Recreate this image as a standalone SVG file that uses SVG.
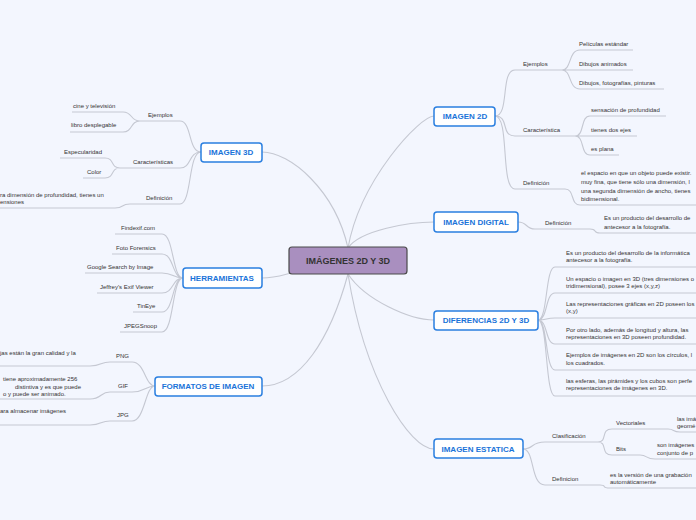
<svg xmlns="http://www.w3.org/2000/svg" width="696" height="520" viewBox="0 0 696 520">
<style>
.c{fill:none;stroke:#c5c8d2;stroke-width:1.1}
.n rect{fill:#fff;stroke:#2a7fe0;stroke-width:1.5}
.n text{font-family:"Liberation Sans",Arial,sans-serif;font-weight:bold;font-size:8px;fill:#1a73d9;text-anchor:middle}
.t{font-family:"Liberation Sans",Arial,sans-serif;font-size:6px;fill:#333}
</style>
<rect width="696" height="520" fill="#f3f6fe"/>
<g id="connectors" class="c">
<path d="M348,248 C360,180 420,116 434,116"/>
<path d="M348,248 C360,230 410,222 434,222"/>
<path d="M348,274 C365,300 410,320 434,320"/>
<path d="M348,274 C365,380 410,449 434,449"/>
<path d="M348,248 C335,190 290,152 262,152"/>
<path d="M330,260 C300,270 280,278 262,278"/>
<path d="M348,274 C330,340 300,386 262,386"/>
<path d="M495,116 C510,116 500,70 515,70 L562,70 M562,70 C572,70 568,50 580,50 L633,50 M562,70 L633,70 M562,70 C572,70 568,89 580,89 L664,89"/>
<path d="M495,116 C510,116 500,136 515,136 L575,136 M575,136 C585,136 580,116 590,116 L666,116 M575,136 L637,136 M575,136 C585,136 580,155 590,155 L619,155"/>
<path d="M495,116 C510,116 500,189 515,189 L565,189 C575,189 570,205 580,205 L696,205"/>
<path d="M518,222 C528,222 525,229 535,229 L590,229 C598,229 592,233 600,233 L696,233"/>
<path d="M538,320 C548,320 545,267 555,267 L696,267 M538,320 C548,320 545,293 555,293 L696,293 M538,320 C548,320 545,318 555,318 L696,318 M538,320 C548,320 545,344 555,344 L696,344 M538,320 C548,320 545,370 555,370 L696,370 M538,320 C548,320 545,396 555,396 L696,396"/>
<path d="M523,449 C535,449 530,442 545,442 L598,442 M598,442 C608,442 600,429 612,429 L668,429 C675,429 672,432 680,432 L696,432 M598,442 C608,442 600,455 612,455 L640,455 C648,455 645,459 655,459 L696,459"/>
<path d="M523,449 C535,449 530,485 545,485 L600,485 C608,485 600,488 610,488 L696,488"/>
<path d="M201,152 C188,152 192,121 180,121 L140,121 C130,121 133,112 123,112 L72,112 M140,121 C130,121 133,132 123,132 L70,132"/>
<path d="M201,152 C188,152 192,168 180,168 L120,168 C110,168 115,158 105,158 L60,158 M120,168 C110,168 115,178 105,178 L83,178"/>
<path d="M201,152 C188,152 192,204 180,204 L130,204 C120,204 125,208 115,208 L0,208"/>
<path d="M183,278 C172,278 174,234 162,234 L115,234 M183,278 C172,278 174,254 162,254 L112,254 M183,278 C172,278 174,273 162,273 L85,273 M183,278 C172,278 174,293 162,293 L97,293 M183,278 C172,278 174,312 162,312 L133,312 M183,278 C172,278 174,332 162,332 L120,332"/>
<path d="M155,386 C145,386 145,362 132,362 L110,362 C100,362 102,366 90,366 L0,366 M155,386 C145,386 145,392 132,392 L110,392 C100,392 102,399 90,399 L0,399 M155,386 C145,386 145,421 132,421 L110,421 C100,421 102,425 90,425 L0,425"/>
</g>
<g id="center"><rect x="289" y="247" width="118" height="27" rx="3" fill="#a98fbf" stroke="#4a4a4a" stroke-width="1.2"/><text x="348" y="264" font-family="Liberation Sans,Arial,sans-serif" font-weight="bold" font-size="9" fill="#333" text-anchor="middle">IMÁGENES 2D Y 3D</text></g>
<g id="n2d" class="n"><rect x="434" y="107" width="61" height="19" rx="3"/><text x="465" y="119">IMAGEN 2D</text></g>
<g id="ndig" class="n"><rect x="434" y="212" width="84" height="20" rx="3"/><text x="476" y="225">IMAGEN DIGITAL</text></g>
<g id="ndif" class="n"><rect x="434" y="311" width="104" height="19" rx="3"/><text x="486" y="323">DIFERENCIAS 2D Y 3D</text></g>
<g id="nest" class="n"><rect x="434" y="439" width="89" height="19" rx="3"/><text x="478" y="452">IMAGEN ESTATICA</text></g>
<g id="n3d" class="n"><rect x="201" y="143" width="61" height="19" rx="3"/><text x="231" y="155">IMAGEN 3D</text></g>
<g id="nher" class="n"><rect x="183" y="268" width="79" height="20" rx="3"/><text x="222" y="281">HERRAMIENTAS</text></g>
<g id="nfor" class="n"><rect x="155" y="377" width="107" height="19" rx="3"/><text x="208" y="389">FORMATOS DE IMAGEN</text></g>
<g id="leaves" class="t">
<text x="523" y="66">Ejemplos</text>
<text x="579" y="46">Películas estándar</text>
<text x="579" y="66">Dibujos animados</text>
<text x="579" y="85">Dibujos, fotografías, pinturas</text>
<text x="523" y="132">Característica</text>
<text x="591" y="112">sensación de profundidad</text>
<text x="591" y="132">tienes dos ejes</text>
<text x="591" y="151">es plana</text>
<text x="523" y="185">Definición</text>
<text x="581" y="175">el espacio en que un objeto puede existir.</text>
<text x="581" y="184">muy fina, que tiene sólo una dimensión, l</text>
<text x="581" y="193">una segunda dimensión de ancho, tienes</text>
<text x="581" y="201">bidimensional.</text>
<text x="545" y="225">Definición</text>
<text x="604" y="220">Es un producto del desarrollo de</text>
<text x="604" y="229">antecesor a la fotografía.</text>
<text x="566" y="255">Es un producto del desarrollo de la informática</text>
<text x="566" y="262">antecesor a la fotografía.</text>
<text x="566" y="281">Un espacio o imagen en 3D (tres dimensiones o</text>
<text x="566" y="288">tridimensional), posee 3 ejes (x,y,z)</text>
<text x="566" y="306">Las representaciones gráficas en 2D poseen los</text>
<text x="566" y="313">(x,y)</text>
<text x="566" y="332">Por otro lado, además de longitud y altura, las</text>
<text x="566" y="339">representaciones en 3D poseen profundidad.</text>
<text x="566" y="357">Ejemplos de imágenes en 2D son los círculos, l</text>
<text x="566" y="365">los cuadrados.</text>
<text x="566" y="383">las esferas, las pirámides y los cubos son perfe</text>
<text x="566" y="390">representaciones de imágenes en 3D.</text>
<text x="552" y="438">Clasificación</text>
<text x="616" y="425">Vectoriales</text>
<text x="677" y="421">las imá</text>
<text x="677" y="428">geomé</text>
<text x="616" y="451">Bits</text>
<text x="657" y="447">son imágenes</text>
<text x="657" y="455">conjunto de p</text>
<text x="552" y="481">Definicion</text>
<text x="610" y="477">es la versión de una grabación</text>
<text x="610" y="484">automáticamente</text>
<text x="148" y="117">Ejemplos</text>
<text x="73" y="108">cine y televisión</text>
<text x="71" y="127">libro desplegable</text>
<text x="133" y="164">Características</text>
<text x="64" y="154">Especularidad</text>
<text x="87" y="174">Color</text>
<text x="146" y="200">Definición</text>
<text x="0" y="197">ra dimensión de profundidad, tienes un</text>
<text x="0" y="204">ensiones</text>
<text x="121" y="230">Findexif.com</text>
<text x="116" y="250">Foto Forensics</text>
<text x="87" y="269">Google Search by Image</text>
<text x="100" y="289">Jeffrey's Exif Viewer</text>
<text x="137" y="308">TinEye</text>
<text x="124" y="328">JPEGSnoop</text>
<text x="116" y="358">PNG</text>
<text x="0" y="355">jas están la gran calidad y la</text>
<text x="118" y="388">GIF</text>
<text x="3" y="381">tiene aproximadamente 256</text>
<text x="15" y="389">distintiva y es que puede</text>
<text x="3" y="396">o y puede ser animado.</text>
<text x="117" y="417">JPG</text>
<text x="0" y="413">ara almacenar imágenes</text>
</g>
</svg>
